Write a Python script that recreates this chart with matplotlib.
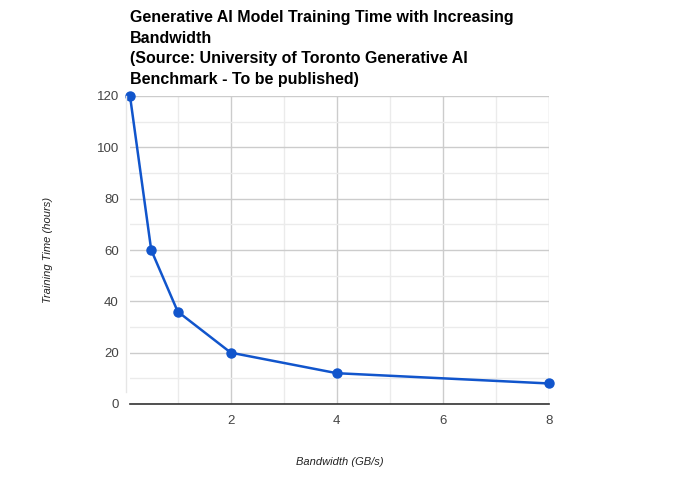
import matplotlib
matplotlib.use("Agg")
import matplotlib.pyplot as plt
from matplotlib.ticker import MultipleLocator

bandwidth = [0.1, 0.5, 1, 2, 4, 8]
training_hours = [120, 60, 36, 20, 12, 8]
x_ticks = [2, 4, 6, 8]
y_ticks = [0, 20, 40, 60, 80, 100, 120]

plt.rcParams['font.family'] = ['Liberation Sans', 'DejaVu Sans']

fig = plt.figure(figsize=(6.8, 5), dpi=100)
ax = fig.add_axes([130/680, 1-404/500, (549-130)/680, (404-96)/500])

ax.set_xlim(0.1, 8)
ax.set_ylim(0, 120)
ax.set_xticks(x_ticks)
ax.set_yticks(y_ticks)
ax.xaxis.set_minor_locator(MultipleLocator(1))
ax.yaxis.set_minor_locator(MultipleLocator(10))
ax.grid(which='major', color='#cccccc', linewidth=1)
ax.grid(which='minor', color='#ebebeb', linewidth=1)
ax.set_axisbelow(True)
for s in ['top', 'right', 'left']:
    ax.spines[s].set_visible(False)
ax.spines['bottom'].set_color('#333333')
ax.spines['bottom'].set_linewidth(1.2)
ax.tick_params(which='both', length=0, labelsize=9.5, labelcolor='#444444')
ax.tick_params(axis='x', pad=8)
ax.tick_params(axis='y', pad=8)

# faint vertical line just left of the plot area
fig.add_artist(plt.Line2D([125.5/680, 125.5/680], [1-404/500 + 12/500, 1-96/500],
                          color='#e6e6e6', linewidth=1))

ax.plot(bandwidth, training_hours, color='#1155cc', linewidth=1.8,
        marker='o', markersize=6.5, clip_on=False, zorder=5)

fig.text(130/680, 1-10/500,
         "Generative AI Model Training Time with Increasing\nBandwidth\n(Source: University of Toronto Generative AI\nBenchmark - To be published)",
         ha='left', va='top', fontsize=11.5, fontweight='bold', color='#000000',
         linespacing=1.47)

fig.text(340/680, 1-462/500, "Bandwidth (GB/s)", ha='center', va='center',
         fontsize=8, style='italic', color='#222222')
fig.text(48/680, 1-250/500, "Training Time (hours)", ha='center', va='center',
         fontsize=8, style='italic', color='#222222', rotation=90)

fig.savefig("out.png", dpi=100)
